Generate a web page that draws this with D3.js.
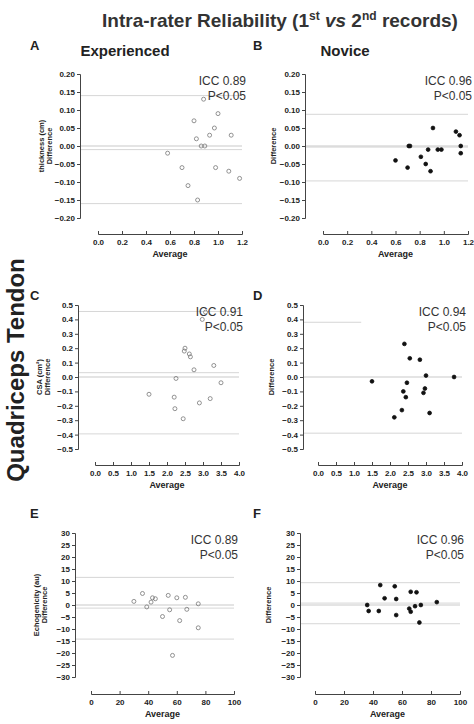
<!DOCTYPE html>
<html><head><meta charset="utf-8">
<script src="https://cdn.jsdelivr.net/npm/d3@7"></script>
<style>body{margin:0;background:#fff}text{font-family:Arial,"Liberation Sans",sans-serif}</style>
</head><body><div id="chart"></div>
<script>
// data: [average, difference]
const thickExp = [[0.58,-0.02],[0.70,-0.06],[0.75,-0.11],[0.80,0.07],[0.82,0.02],[0.83,-0.15],[0.86,0],[0.88,0.13],[0.89,0],[0.93,0.03],[0.97,0.05],[0.98,-0.06],[1.0,0.09],[1.09,-0.07],[1.11,0.03],[1.18,-0.09]];
const thickNov = [[0.6,-0.04],[0.7,-0.06],[0.71,0],[0.72,0],[0.81,-0.03],[0.85,-0.05],[0.87,-0.01],[0.89,-0.07],[0.91,0.05],[0.95,-0.01],[0.98,-0.01],[1.1,0.04],[1.13,0.03],[1.14,0],[1.14,-0.02]];
const csaExp = [[1.5,-0.12],[2.2,-0.14],[2.22,-0.22],[2.25,-0.01],[2.45,-0.29],[2.48,0.18],[2.5,0.2],[2.62,0.16],[2.65,0.14],[2.75,0.05],[2.9,-0.18],[2.98,0.4],[3.07,0.45],[3.2,-0.15],[3.3,0.08],[3.5,-0.04]];
const csaNov = [[1.5,-0.03],[2.12,-0.28],[2.33,-0.23],[2.37,-0.1],[2.4,0.23],[2.44,-0.14],[2.47,-0.04],[2.55,0.13],[2.83,0.12],[2.93,-0.11],[2.97,-0.08],[3.0,0.01],[3.1,-0.25],[3.78,0]];
const echoExp = [[30,1.5],[36,4.8],[39,-0.8],[42,1.2],[43,3],[45,2.6],[50,-4.8],[54,4],[55,-2],[57,-21],[60,3],[62,-6.5],[66,3.2],[67,-1.8],[75,0.5],[75,-9.5]];
const echoNov = [[36,0],[37,-2.5],[44,-2.5],[45,8.3],[48,2.8],[55,7.8],[56,2.5],[56,-4.2],[65,-1.5],[66,5.5],[66,-2.8],[69,-0.5],[70,5.3],[72,-7.3],[73,0],[84,1.2]];
// reference lines: upper limit, mean, lower limit
const limits = {A:[0.14,-0.01,-0.16], B:[0.088,-0.003,-0.097], C:[0.455,0.03,-0.395], D:[0.38,null,-0.39], E:[11.5,-1.3,-14.2], F:[9.3,0.8,-7.8]};
const iccs = {A:"ICC 0.89", B:"ICC 0.96", C:"ICC 0.91", D:"ICC 0.94", E:"ICC 0.89", F:"ICC 0.96"};
const thickTicks = [0.20,0.15,0.10,0.05,0,-0.05,-0.10,-0.15,-0.20];
const csaTicks = [0.5,0.4,0.3,0.2,0.1,0,-0.1,-0.2,-0.3,-0.4,-0.5];
const echoTicks = [30,25,20,15,10,5,0,-5,-10,-15,-20,-25,-30];

const svg = d3.select("#chart").append("svg").attr("width",474).attr("height",724);

svg.append("text").attr("x",280).attr("y",27).attr("text-anchor","middle")
  .attr("font-size",19).attr("font-weight","bold").attr("fill","#333")
  .html('Intra-rater Reliability (1<tspan dy="-7" font-size="12">st</tspan><tspan dy="7" font-style="italic"> vs</tspan> 2<tspan dy="-7" font-size="12">nd</tspan><tspan dy="7"> records)</tspan>');
svg.append("text").attr("transform","translate(24,370) rotate(-90)").attr("text-anchor","middle")
  .attr("font-size",24).attr("font-weight","bold").attr("fill","#222").text("Quadriceps Tendon");
svg.append("text").attr("x",125).attr("y",56).attr("text-anchor","middle").attr("font-size",15).attr("font-weight","bold").attr("fill","#222").text("Experienced");
svg.append("text").attr("x",345).attr("y",56).attr("text-anchor","middle").attr("font-size",15).attr("font-weight","bold").attr("fill","#222").text("Novice");

const panels = [
 {id:"A",data:thickExp,open:true,yax:80,x0:98,x1:242,yt:74,yb:218,ax:234,xd:[0,1.2],xt:[0,0.2,0.4,0.6,0.8,1.0,1.2],xf:d3.format(".1f"),yd:[-0.2,0.2],yt2:thickTicks,yf:d3.format(".2f"),lab:["thickness (cm)","Difference"],L:[30,50]},
 {id:"B",data:thickNov,open:false,yax:305,x0:323,x1:468,yt:74,yb:218,ax:234,xd:[0,1.2],xt:[0,0.2,0.4,0.6,0.8,1.0,1.2],xf:d3.format(".1f"),yd:[-0.2,0.2],yt2:thickTicks,yf:d3.format(".2f"),lab:["Difference"],L:[253,50]},
 {id:"C",data:csaExp,open:true,yax:78,x0:95,x1:239,yt:305,yb:449,ax:465,xd:[0,4],xt:[0,0.5,1,1.5,2,2.5,3,3.5,4],xf:d3.format(".1f"),yd:[-0.5,0.5],yt2:csaTicks,yf:d3.format(".1f"),lab:["CSA (cm²)","Difference"],L:[30,300]},
 {id:"D",data:csaNov,open:false,yax:303,x0:318,x1:462,yt:305,yb:449,ax:465,xd:[0,4],xt:[0,0.5,1,1.5,2,2.5,3,3.5,4],xf:d3.format(".1f"),yd:[-0.5,0.5],yt2:csaTicks,yf:d3.format(".1f"),lab:["Difference"],L:[253,300]},
 {id:"E",data:echoExp,open:true,yax:75,x0:91,x1:234,yt:533,yb:677,ax:694,xd:[0,100],xt:[0,20,40,60,80,100],xf:d3.format("d"),yd:[-30,30],yt2:echoTicks,yf:d3.format("d"),lab:["Echogenicity (au)","Difference"],L:[30,518]},
 {id:"F",data:echoNov,open:false,yax:300,x0:315,x1:460,yt:533,yb:677,ax:694,xd:[0,100],xt:[0,20,40,60,80,100],xf:d3.format("d"),yd:[-30,30],yt2:echoTicks,yf:d3.format("d"),lab:["Difference"],L:[253,518]}
];

panels.forEach(p => {
  const x = d3.scaleLinear().domain(p.xd).range([p.x0,p.x1]);
  const y = d3.scaleLinear().domain(p.yd).range([p.yb,p.yt]);
  const g = svg.append("g");
  g.append("text").attr("x",p.L[0]).attr("y",p.L[1]).attr("font-size",13).attr("font-weight","bold").attr("fill","#222").text(p.id);

  const lim = limits[p.id];
  // zero line
  g.append("line").attr("x1",p.yax).attr("x2",p.x1).attr("y1",y(0)).attr("y2",y(0)).attr("stroke","#bbb").attr("stroke-width",0.8);
  lim.forEach((v,i) => {
    if (v === null) return;
    const xe = (p.id==="D" && i===0) ? x(1.2) : p.x1;
    g.append("line").attr("x1",p.yax).attr("x2",xe).attr("y1",y(v)).attr("y2",y(v)).attr("stroke","#ccc").attr("stroke-width",0.8);
  });

  const ya = g.append("g").attr("transform","translate("+p.yax+",0)")
    .call(d3.axisLeft(y).tickValues(p.yt2).tickFormat(p.yf).tickSize(3).tickPadding(2));
  const xa = g.append("g").attr("transform","translate(0,"+p.ax+")")
    .call(d3.axisTop(x).tickValues(p.xt).tickFormat(p.xf).tickSize(3));
  xa.selectAll(".tick text").attr("y",11).attr("dy","0");
  [ya,xa].forEach(a => {
    a.select(".domain").attr("stroke","#444");
    a.selectAll(".tick line").attr("stroke","#444");
    a.selectAll(".tick text").attr("font-size",8).attr("font-weight","bold").attr("fill","#222").attr("font-family","Arial,Liberation Sans,sans-serif");
  });

  g.append("text").attr("x",(p.x0+p.x1)/2).attr("y",p.ax+23).attr("text-anchor","middle")
    .attr("font-size",9).attr("font-weight","bold").attr("fill","#222").text("Average");
  const cy = (p.yt+p.yb)/2;
  p.lab.forEach((t,i) => {
    const lx = p.yax - 36 + (p.lab.length===1 ? 7 : i*8);
    g.append("text").attr("transform","translate("+lx+","+cy+") rotate(-90)").attr("text-anchor","middle")
      .attr("font-size",7.5).attr("font-weight","bold").attr("fill","#222").text(t);
  });

  g.append("text").attr("x",p.x1+4).attr("y",p.yt+11).attr("text-anchor","end").attr("font-size",12).attr("fill","#333").text(iccs[p.id]);
  g.append("text").attr("x",p.x1+4).attr("y",p.yt+26).attr("text-anchor","end").attr("font-size",12).attr("fill","#333").text("P<0.05");

  g.selectAll("circle").data(p.data).enter().append("circle")
    .attr("cx",d => x(d[0])).attr("cy",d => y(d[1])).attr("r",p.open ? 2 : 1.9)
    .attr("fill",p.open ? "none" : "#111").attr("stroke",p.open ? "#777" : "#111").attr("stroke-width",0.8);
});
</script></body></html>
